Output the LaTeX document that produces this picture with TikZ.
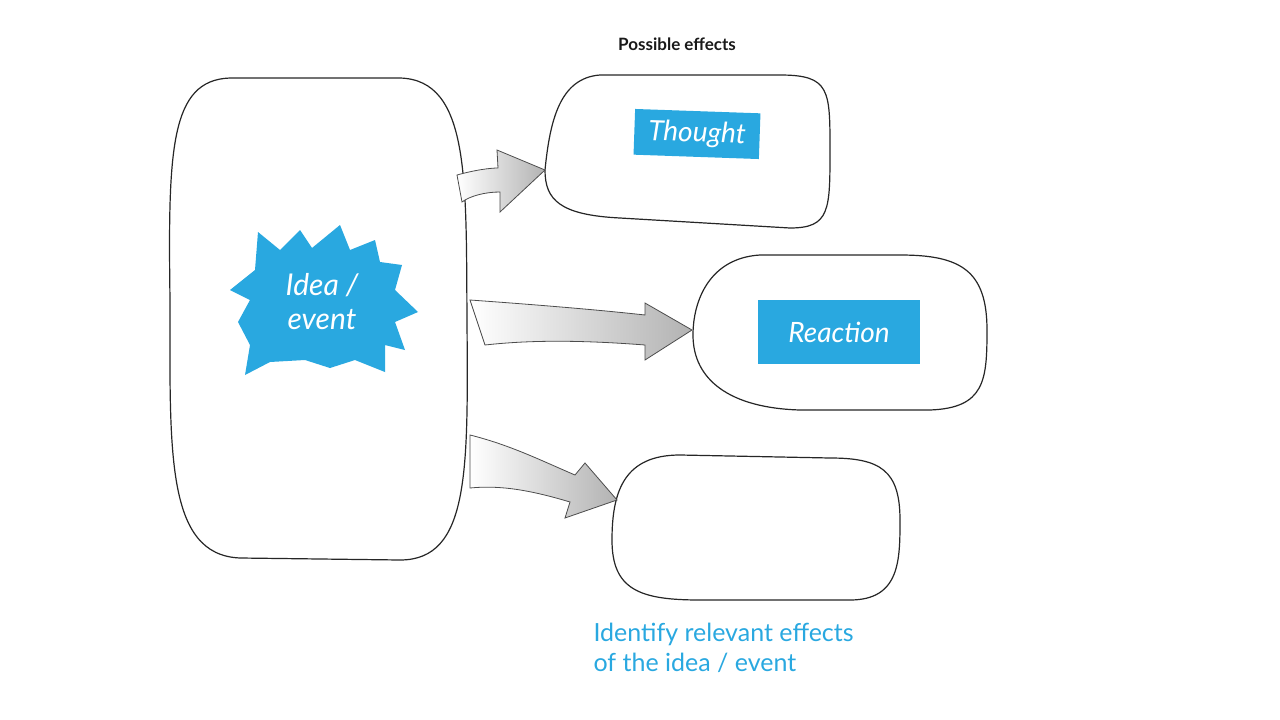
\documentclass[tikz,border=0pt]{standalone}
\usepackage{fontspec}
\setmainfont{Lato}
\usetikzlibrary{shapes.geometric}
\definecolor{cblue}{HTML}{29A8E0}
\begin{document}
\begin{tikzpicture}[x=1pt,y=-1pt,
  box/.style={draw=black!85,line width=1.2pt,fill=white},
  arr/.style={draw=black!70,line width=0.8pt,left color=white,right color=black!30},
  lab/.style={fill=cblue,text=white,font=\itshape\fontsize{28}{30}\selectfont,inner xsep=14pt,inner ysep=10pt}]
\useasboundingbox (0,0) rectangle (1280,720);
% boxes
\draw[box] (230,78) .. controls (170,80) and (168,150) .. (170,300) .. controls (170,450) and (165,555) .. (240,558) -- (400,560) .. controls (470,560) and (468,470) .. (467,320) .. controls (466,180) and (470,80) .. (400,78) -- cycle;
\draw[box] (600,75) .. controls (560,78) and (550,120) .. (545,170) .. controls (545,200) and (560,215) .. (620,218) -- (790,228) .. controls (830,228) and (830,210) .. (830,150) .. controls (830,90) and (830,75) .. (780,75) -- cycle;
\draw[box] (760,255) .. controls (710,258) and (693,300) .. (693,335) .. controls (693,380) and (730,408) .. (800,410) -- (930,410) .. controls (985,408) and (987,380) .. (987,330) .. controls (987,270) and (960,255) .. (900,255) -- cycle;
\draw[box] (680,455) .. controls (625,455) and (612,490) .. (612,540) .. controls (612,590) and (640,600) .. (700,600) -- (850,600) .. controls (900,600) and (900,560) .. (900,520) .. controls (900,470) and (880,458) .. (830,458) -- cycle;
% arrows
\draw[arr] (457,175) .. controls (475,170) and (490,168) .. (498,168) -- (497,150) -- (545,170) -- (500,212) -- (500,192) .. controls (485,192) and (470,196) .. (462,202) -- cycle;
\draw[arr] (470,300) .. controls (540,305) and (600,310) .. (645,315) -- (645,303) -- (692,330) -- (645,360) -- (645,345) .. controls (580,340) and (530,340) .. (485,345) -- cycle;
\draw[arr] (470,435) .. controls (510,445) and (540,460) .. (575,475) -- (585,463) -- (617,500) -- (565,518) -- (570,502) .. controls (530,490) and (500,485) .. (470,488) -- cycle;
% burst
\fill[cblue] (258,232) -- (280,250) -- (300,230) -- (312,248) -- (340,225) -- (350,250) -- (375,240) -- (380,262) -- (402,265) -- (395,290) -- (418,312) -- (395,322) -- (405,350) -- (385,345) -- (385,372) -- (355,360) -- (330,368) -- (305,360) -- (270,362) -- (245,375) -- (250,345) -- (238,322) -- (250,300) -- (230,290) -- (255,270) -- cycle;
\node[text=white,font=\itshape\fontsize{30}{34}\selectfont,align=center] (burst) at (322,302) {Idea /\\event};
% labels
\node[lab,rotate=-2] (thought) at (697,134) {Thought};
\node[lab,minimum width=162pt,minimum height=64pt] (reaction) at (839,332) {Reaction};
\node[font=\bfseries\fontsize{17}{20}\selectfont,text=black!90] (title) at (677,44) {Possible effects};
\node[anchor=west,text=cblue,font=\fontsize{25}{30}\selectfont,align=left] (note) at (590,648) {Identify relevant effects\\of the idea / event};
\end{tikzpicture}
\end{document}
